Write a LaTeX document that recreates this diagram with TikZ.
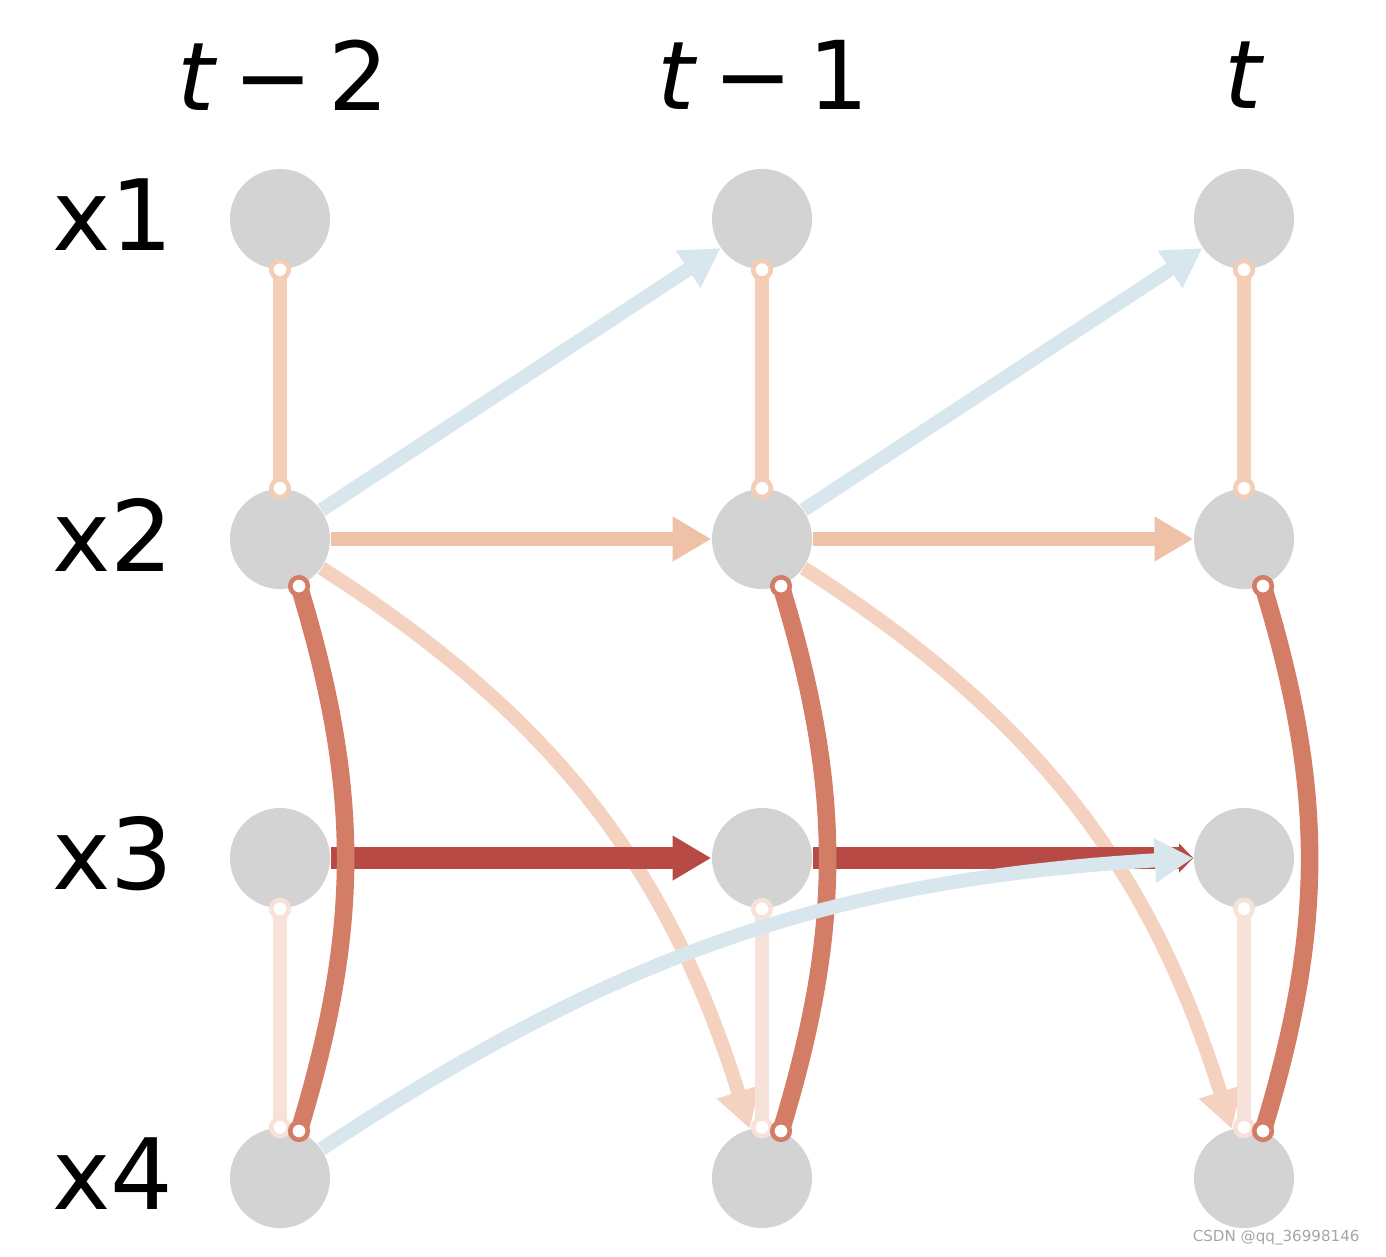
\documentclass[tikz,border=0pt]{standalone}
\usepackage{fontspec}
\setmainfont{DejaVu Sans}
\usetikzlibrary{arrows.meta}
\definecolor{ngray}{HTML}{D3D3D3}
\definecolor{corange}{HTML}{F3CDB5}
\definecolor{cpale}{HTML}{F6E2D8}
\definecolor{cred}{HTML}{D47D66}
\definecolor{lblue}{HTML}{D8E6EE}
\definecolor{lorange}{HTML}{EFC1A6}
\definecolor{dred}{HTML}{B84A45}
\definecolor{lorange2}{HTML}{F4D2BF}
\tikzset{
  var/.style={circle,fill=ngray,minimum size=1cm,inner sep=0},
  lab/.style={font=\fontsize{28}{28}\selectfont},
  ttl/.style={font=\fontsize{27}{27}\selectfont},
  link/.style={line width=4pt},
  lag/.style={line width=4pt,-{Triangle[length=11pt,width=12pt]}},
  endc/.style={circle,fill=white,draw=#1,line width=1.3pt,minimum size=5pt,inner sep=0},
}
\begin{document}
\begin{tikzpicture}[x=0.01cm,y=-0.01cm]
\useasboundingbox (0,0) rectangle (1386,1256);
\foreach \c/\x in {a/280,b/762,c/1244}{
  \foreach \r/\y in {1/219,2/539,3/858,4/1178}{
    \node[var] (\c\r) at (\x,\y) {};
  }
}
\node[ttl] (t0) at (283,75) {\textit{t}\,−\,2};
\node[ttl] (t1) at (763,75) {\textit{t}\,−\,1};
\node[ttl] (t2) at (1245,75) {\textit{t}};
\node[lab] (l1) at (113,215) {x1};
\node[lab] (l2) at (113,535) {x2};
\node[lab] (l3) at (113,854) {x3};
\node[lab] (l4) at (113,1174) {x4};
\node[font=\fontsize{4.3}{4.3}\selectfont,text=gray!70,anchor=east] (wm) at (1372,1238) {CSDN @qq\_36998146};
% lagged arrows
\foreach \p/\q in {a/b,b/c}{
  \draw[lag,lblue] (\p2.35) -- (\q1.-145);
  \draw[lag,lorange] (\p2.east) -- (\q2.west);
  \draw[lag,lorange2] (\p2.-35) to[bend left=20] (\q4.104);
}
\draw[lag,dred,line width=6pt] (a3.east) -- (b3.west);
\draw[lag,dred,line width=6pt,-{Triangle[length=4pt,width=8pt]}] (b3.east) -- (c3.west);
% contemporaneous links
\foreach \c in {a,b,c}{
  \draw[link,corange] (\c1.south) -- (\c2.north);
  \node[endc=corange] (\c1e) at (\c1.south) {};
  \node[endc=corange] (\c2e) at (\c2.north) {};
  \draw[link,cpale] (\c3.south) -- (\c4.north);
  \node[endc=cpale] (\c3e) at (\c3.south) {};
  \node[endc=cpale] (\c4e) at (\c4.north) {};
  \draw[link,cred,line width=5pt] (\c2.-68) to[bend left=17] (\c4.68);
  \node[endc=cred] (\c2f) at (\c2.-68) {};
  \node[endc=cred] (\c4f) at (\c4.68) {};
}
\draw[lag,lblue] (a4.35) to[bend left=15] (c3.west);
\end{tikzpicture}
\end{document}
